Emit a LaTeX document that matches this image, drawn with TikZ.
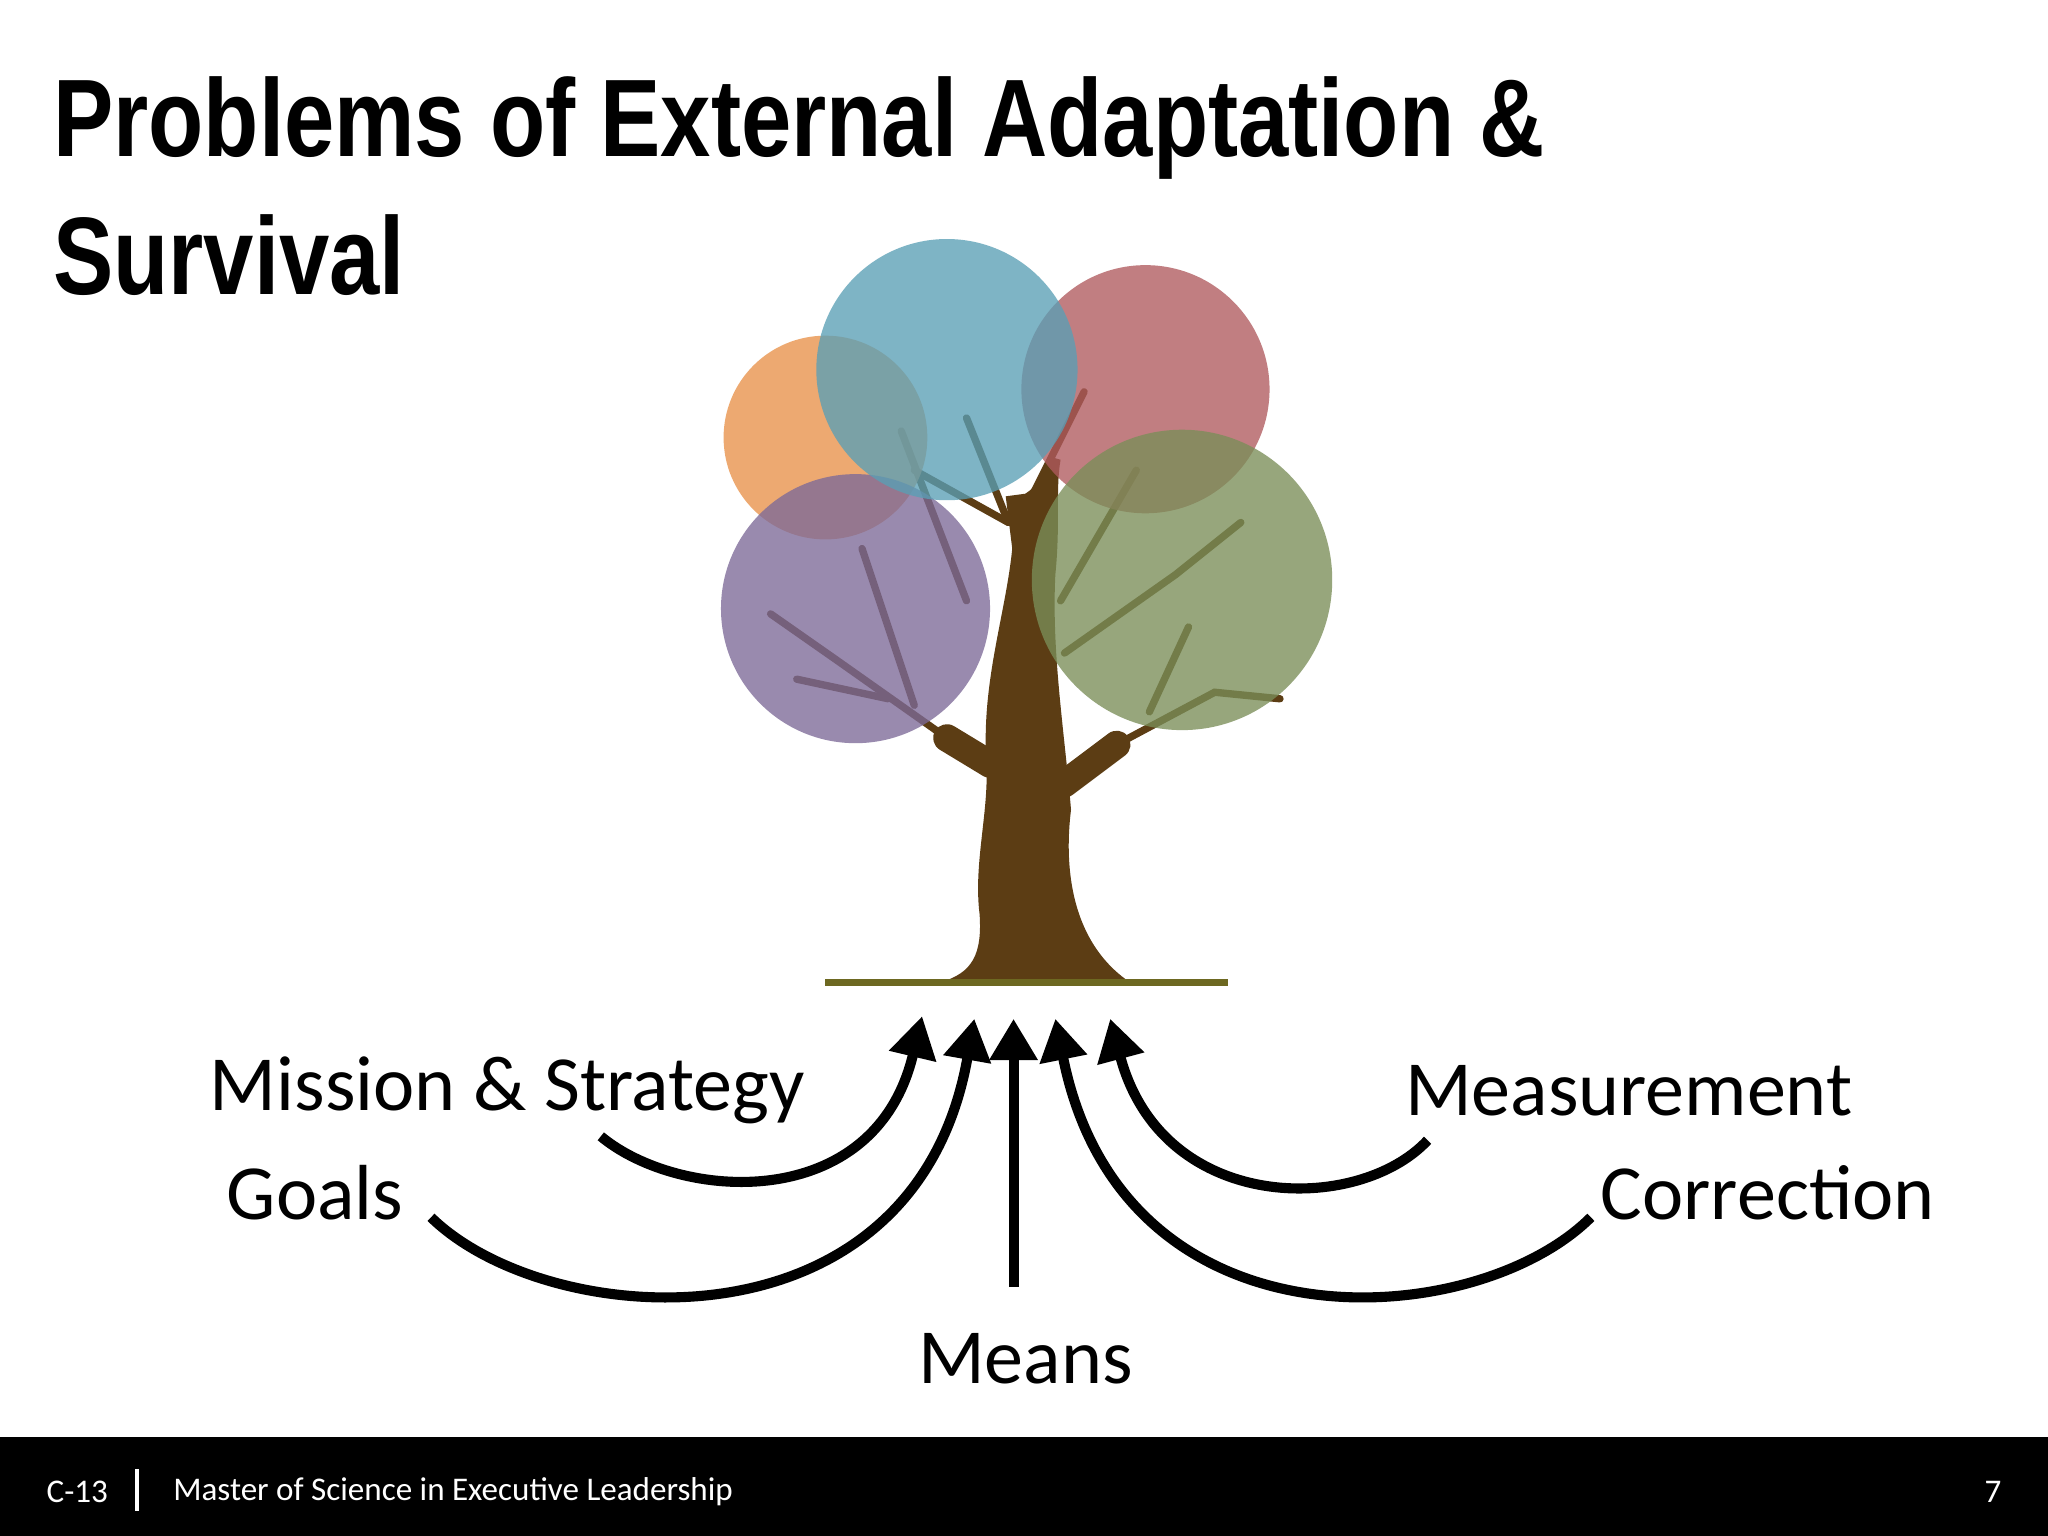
\documentclass[tikz,border=0pt]{standalone}
\usepackage{fontspec}
\setmainfont{Carlito}
\newfontfamily\titlefont[FakeStretch=0.82]{Liberation Sans}
\usetikzlibrary{arrows.meta}
\definecolor{bark}{HTML}{5C3D14}
\begin{document}
\begin{tikzpicture}[x=0.01cm,y=-0.01cm,
  leaf/.style={opacity=0.78},
  arr/.style={line width=2.2pt,-{Triangle[length=9pt,width=10pt]}},
  lab/.style={font=\fontsize{17}{19}\selectfont,anchor=west,inner sep=0pt},
  br/.style={bark,line width=1.6pt,line cap=round}]
\useasboundingbox (0,0) rectangle (1568,1176);
\fill[white] (0,0) rectangle (1568,1176);
\node[anchor=north west,align=left,inner sep=0pt,font=\titlefont\bfseries\fontsize{24}{30}\selectfont] (title) at (40,58) {Problems of External Adaptation \&\\Survival};
% trunk
\fill[bark] (720,752) .. controls (745,745) and (752,730) .. (750,700)
  .. controls (745,660) and (758,620) .. (755,580)
  .. controls (752,520) and (770,470) .. (775,420) -- (770,380) -- (785,378)
  .. controls (795,372) and (800,360) .. (805,350) -- (812,352)
  .. controls (808,375) and (812,400) .. (808,440)
  .. controls (805,500) and (815,560) .. (820,620)
  .. controls (815,660) and (818,720) .. (865,752) -- cycle;
\draw[br,line width=6pt] (758,585) -- (725,565);
\draw[br,line width=6pt] (815,600) -- (855,570);
\draw[br] (725,565) -- (640,505) -- (590,470);
\draw[br] (680,535) -- (610,520);
\draw[br] (700,540) -- (660,420);
\draw[br] (740,460) -- (690,330);
\draw[br] (772,400) -- (700,360);
\draw[br] (772,400) -- (740,320);
\draw[br] (790,380) -- (830,300);
\draw[br] (812,460) -- (870,360);
\draw[br] (815,500) -- (900,440) -- (950,400);
\draw[br] (855,570) -- (930,530) -- (980,535);
\draw[br] (880,545) -- (910,480);
% tree crowns
\fill[leaf,fill={rgb,255:red,232;green,146;blue,74}] (632,335) circle (78);
\fill[leaf,fill={rgb,255:red,125;green,106;blue,152}] (655,466) circle (103);
\fill[leaf,fill={rgb,255:red,176;green,90;blue,94}] (877,298) circle (95);
\fill[leaf,fill={rgb,255:red,90;green,159;blue,181}] (725,283) circle (100);
\fill[leaf,fill={rgb,255:red,122;green,142;blue,88}] (905,444) circle (115);
\draw[olive!70!black,line width=1.5pt] (632,752) -- (940,752);
% labels
\node[lab] (ms) at (160,835) {Mission \& Strategy};
\node[lab] (goals) at (173,913) {Goals};
\node[lab,anchor=center] (means) at (785,1040) {Means};
\node[lab] (meas) at (1075,835) {Measurement};
\node[lab] (corr) at (1225,913) {Correction};
% arrow coordinates
\coordinate (a1s) at (460,870); \coordinate (a1e) at (706,778);
\coordinate (a2s) at (330,932); \coordinate (a2e) at (746,780);
\coordinate (a3s) at (776,985); \coordinate (a3e) at (776,780);
\coordinate (a4s) at (1218,932); \coordinate (a4e) at (808,780);
\coordinate (a5s) at (1093,873); \coordinate (a5e) at (850,780);
\draw[arr] (a1s) .. controls (520,920) and (670,930) .. (a1e);
\draw[arr] (a2s) .. controls (420,1020) and (700,1040) .. (a2e);
\draw[arr] (a3s) -- (a3e);
\draw[arr] (a4s) .. controls (1130,1020) and (860,1040) .. (a4e);
\draw[arr] (a5s) .. controls (1040,930) and (890,930) .. (a5e);
% footer
\fill[black] (0,1100) rectangle (1568,1176);
\draw[white,line width=0.8pt] (105,1125) -- (105,1157);
\node[white,anchor=west,inner sep=0pt,font=\fontsize{7.2}{8}\selectfont] (code) at (35,1142) {C-13};
\node[white,anchor=west,inner sep=0pt,font=\fontsize{7.2}{8}\selectfont] (prog) at (132,1142) {Master of Science in Executive Leadership};
\node[white,anchor=east,inner sep=0pt,font=\fontsize{7.2}{8}\selectfont] (pg) at (1533,1142) {7};
\end{tikzpicture}
\end{document}
